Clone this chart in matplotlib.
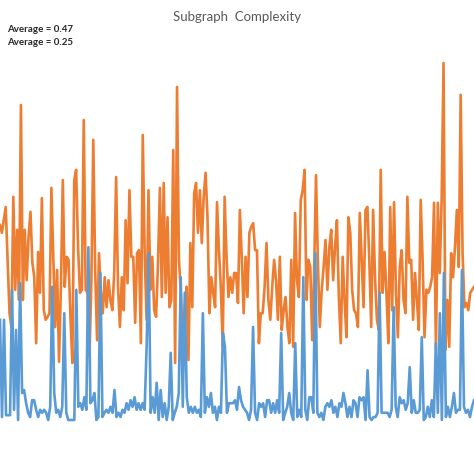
import numpy as np
import matplotlib
matplotlib.use("Agg")
import matplotlib.pyplot as plt

# subgraph complexity per sample
orange_vals = [
    0.525, 0.512, 0.533, 0.555, 0.467, 0.378, 0.355, 0.572, 0.417, 0.517, 0.40, 0.725, 0.40, 0.517, 0.433,
    0.505, 0.547, 0.462, 0.438, 0.328, 0.48, 0.412, 0.57, 0.383, 0.367, 0.372, 0.378, 0.587, 0.472, 0.355,
    0.45, 0.297, 0.422, 0.60, 0.422, 0.472, 0.467, 0.372, 0.295, 0.60, 0.617, 0.488, 0.412, 0.417, 0.70,
    0.417, 0.412, 0.305, 0.433, 0.667, 0.45, 0.333, 0.478, 0.412, 0.378, 0.438, 0.388, 0.433, 0.40,
    0.383, 0.445, 0.605, 0.422, 0.355, 0.438, 0.383, 0.533, 0.428, 0.583, 0.472, 0.472, 0.362, 0.478, 0.483,
    0.328, 0.675, 0.478, 0.367, 0.583, 0.417, 0.472, 0.383, 0.372, 0.462, 0.587, 0.405, 0.595, 0.412, 0.538,
    0.388, 0.40, 0.65, 0.295, 0.755, 0.467, 0.412, 0.338, 0.383, 0.422, 0.30, 0.495, 0.388, 0.578, 0.595,
    0.512, 0.583, 0.495, 0.572, 0.612, 0.538, 0.378, 0.438, 0.412, 0.388, 0.563, 0.483, 0.422, 0.322, 0.572,
    0.472, 0.405, 0.438,
    0.412, 0.445, 0.445, 0.395, 0.55, 0.472, 0.378, 0.472, 0.405, 0.512, 0.522, 0.528, 0.483, 0.483, 0.328,
    0.378, 0.378, 0.422, 0.495, 0.40, 0.367, 0.422, 0.467, 0.433, 0.367, 0.472, 0.35, 0.383, 0.405, 0.355,
    0.328, 0.467, 0.322, 0.545, 0.433, 0.405, 0.567, 0.583, 0.617, 0.40, 0.467, 0.455, 0.333, 0.445, 0.608,
    0.462, 0.355, 0.417, 0.455, 0.50, 0.417, 0.488, 0.517, 0.433, 0.488, 0.533, 0.405, 0.328, 0.472, 0.40,
    0.338, 0.538, 0.512,
    0.417, 0.383, 0.378, 0.355, 0.545, 0.467, 0.388, 0.55, 0.555, 0.467, 0.355, 0.55, 0.438, 0.367, 0.35,
    0.617, 0.412, 0.48, 0.412, 0.328, 0.555, 0.383, 0.563, 0.412, 0.338, 0.455, 0.483, 0.40, 0.378, 0.572,
    0.462, 0.467, 0.367, 0.445, 0.40, 0.35, 0.567, 0.467, 0.338, 0.417, 0.412, 0.422, 0.438, 0.562, 0.317,
    0.562, 0.445, 0.567, 0.795, 0.317, 0.40, 0.322, 0.478, 0.438, 0.488, 0.55, 0.455, 0.742, 0.478, 0.388,
    0.395, 0.383, 0.412, 0.417, 0.422,
]

blue_vals = [
    0.367, 0.205, 0.367, 0.208, 0.208, 0.208, 0.417, 0.217, 0.35, 0.20, 0.428, 0.245, 0.25, 0.228, 0.212,
    0.205, 0.233, 0.233, 0.217, 0.205, 0.217, 0.212, 0.217, 0.212, 0.20, 0.222, 0.422, 0.245, 0.212, 0.217,
    0.205, 0.222, 0.378, 0.212, 0.20, 0.20, 0.20, 0.20, 0.417, 0.222, 0.228, 0.217, 0.238, 0.217, 0.488,
    0.228, 0.233, 0.245, 0.20, 0.205, 0.445, 0.205, 0.212, 0.217, 0.212, 0.222, 0.212, 0.25, 0.205,
    0.212, 0.205, 0.217, 0.212, 0.228, 0.217, 0.233, 0.222, 0.238, 0.217, 0.228, 0.217, 0.228, 0.217, 0.322,
    0.478, 0.212, 0.238, 0.212, 0.262, 0.20, 0.25, 0.205, 0.228, 0.20, 0.222, 0.312, 0.20, 0.212, 0.222,
    0.245, 0.438, 0.222, 0.412, 0.238, 0.212, 0.222, 0.212, 0.222, 0.212, 0.217, 0.205, 0.378, 0.212, 0.238,
    0.222, 0.245, 0.212, 0.222, 0.20, 0.222, 0.212, 0.345, 0.322, 0.212, 0.228, 0.228, 0.228, 0.233,
    0.217, 0.255, 0.233, 0.222, 0.217, 0.212, 0.20, 0.217, 0.355, 0.212, 0.20, 0.228, 0.222, 0.228, 0.205,
    0.233, 0.233, 0.212, 0.228, 0.212, 0.233, 0.212, 0.345, 0.20, 0.212, 0.222, 0.245, 0.212, 0.20, 0.328,
    0.205, 0.217, 0.205, 0.438, 0.217, 0.20, 0.238, 0.238, 0.212, 0.478, 0.212, 0.205, 0.212, 0.20, 0.222,
    0.228, 0.222, 0.233, 0.212, 0.222, 0.205, 0.228, 0.222, 0.245, 0.228, 0.205, 0.222,
    0.205, 0.233, 0.228, 0.205, 0.238, 0.233, 0.238, 0.20, 0.283, 0.205, 0.20, 0.205, 0.205, 0.212, 0.412,
    0.212, 0.212, 0.212, 0.212, 0.205, 0.217, 0.388, 0.222, 0.205, 0.238, 0.228, 0.233, 0.217, 0.228, 0.288,
    0.212, 0.233, 0.212, 0.212, 0.217, 0.338, 0.20, 0.205, 0.222, 0.205, 0.233, 0.205, 0.328, 0.212, 0.378,
    0.20, 0.445, 0.205, 0.222, 0.205, 0.222, 0.245, 0.212, 0.217, 0.217, 0.45, 0.222, 0.212, 0.217, 0.205,
    0.222, 0.233,
]

title = "Subgraph  Complexity"
avg_labels = ["Average = 0.47", "Average = 0.25"]

fig = plt.figure(figsize=(4.74, 4.74), dpi=100)
ax = fig.add_axes([0, 0, 1, 1])

# sample index, both series over the same run of samples
x_o = np.linspace(0, 1, len(orange_vals))
x_b = np.linspace(0, 1, len(blue_vals))
ax.plot(x_o, orange_vals, color="#ED7D31", lw=1.9, solid_joinstyle="round")
ax.plot(x_b, blue_vals, color="#5B9BD5", lw=1.9, solid_joinstyle="round")

ax.set_xlim(0, 1)
ax.set_ylim(0.11, 0.9)
ax.axis("off")

fig.text(0.5, 1 - 17 / 474, title, ha="center", va="center", fontsize=9.5,
         color="#595959", family="Lato")
for i, lab in enumerate(avg_labels):
    fig.text(7 / 474, 1 - (29 + 13.5 * i) / 474, lab, ha="left", va="center",
             fontsize=7, color="#262626", family="Lato", fontweight="bold")

fig.savefig("out.png", dpi=100)
